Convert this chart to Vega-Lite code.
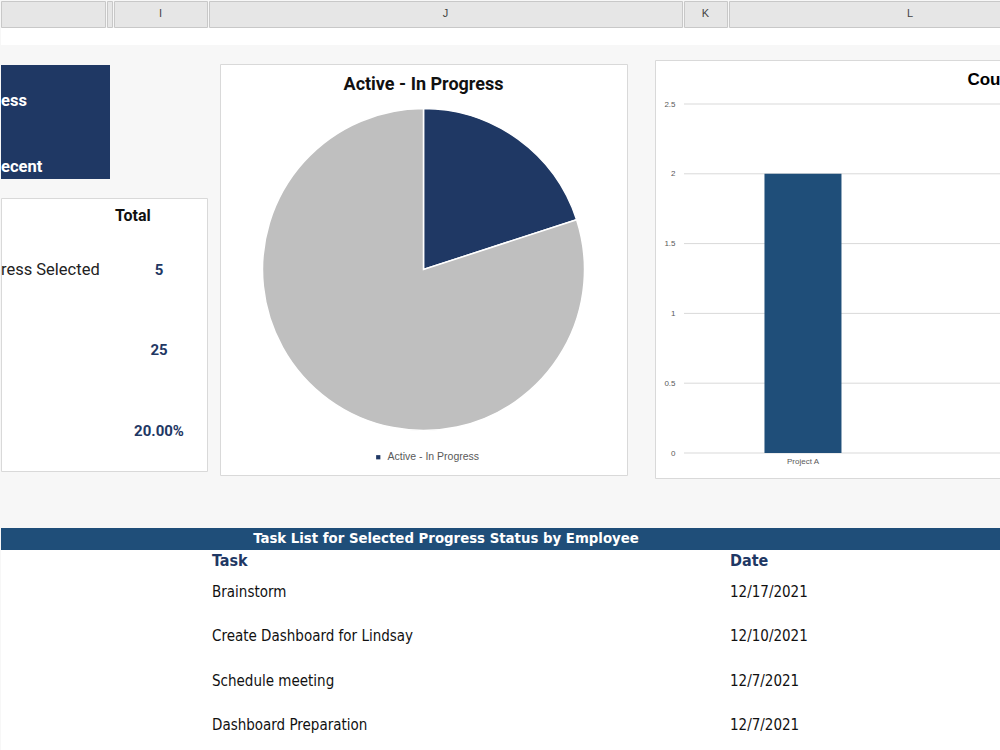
{
  "$schema": "https://vega.github.io/schema/vega-lite/v6.json",
  "background": "#f7f7f7",
  "padding": 0,
  "spacing": 0,
  "config": {
    "view": {"stroke": null},
    "concat": {"spacing": 0}
  },
  "datasets": {
    "columns": [{"col": "I"}, {"col": "J"}, {"col": "K"}, {"col": "L"}],
    "headline": [{"line": 1, "text": "ess"}, {"line": 2, "text": "ecent"}],
    "summary": [
      {"row": 1, "label": "ress Selected", "total": "5"},
      {"row": 4, "label": "", "total": "25"},
      {"row": 7, "label": "", "total": "20.00%"}
    ],
    "status": [
      {"status": "Active - In Progress", "count": 5},
      {"status": "Other", "count": 20}
    ],
    "projects": [{"project": "Project A", "count": 2}],
    "gridvals": [{"v": 0}, {"v": 0.5}, {"v": 1}, {"v": 1.5}, {"v": 2}, {"v": 2.5}],
    "tasks": [
      {"n": 1, "task": "Brainstorm", "date": "12/17/2021"},
      {"n": 2, "task": "Create Dashboard for Lindsay", "date": "12/10/2021"},
      {"n": 3, "task": "Schedule meeting", "date": "12/7/2021"},
      {"n": 4, "task": "Dashboard Preparation", "date": "12/7/2021"}
    ]
  },
  "vconcat": [
    {
      "spacing": 0,
      "hconcat": [
        {"width": 104, "height": 26, "view": {"fill": "#e6e6e6", "stroke": "#c8c8c8"}, "data": {"values": []}, "mark": "text"},
        {"width": 5, "height": 26, "view": {"fill": "#e6e6e6", "stroke": "#c8c8c8"}, "data": {"values": []}, "mark": "text"},
        {"width": 93, "height": 26, "view": {"fill": "#e6e6e6", "stroke": "#c8c8c8"}, "data": {"name": "columns"}, "transform": [{"filter": "datum.col === 'I'"}],
         "mark": {"type": "text", "font": "Liberation Sans", "fontSize": 11, "color": "#444444", "baseline": "middle"}, "encoding": {"text": {"field": "col"}}},
        {"width": 473, "height": 26, "view": {"fill": "#e6e6e6", "stroke": "#c8c8c8"}, "data": {"name": "columns"}, "transform": [{"filter": "datum.col === 'J'"}],
         "mark": {"type": "text", "font": "Liberation Sans", "fontSize": 11, "color": "#444444", "baseline": "middle"}, "encoding": {"text": {"field": "col"}}},
        {"width": 43, "height": 26, "view": {"fill": "#e6e6e6", "stroke": "#c8c8c8"}, "data": {"name": "columns"}, "transform": [{"filter": "datum.col === 'K'"}],
         "mark": {"type": "text", "font": "Liberation Sans", "fontSize": 11, "color": "#444444", "baseline": "middle"}, "encoding": {"text": {"field": "col"}}},
        {"width": 276, "height": 26, "view": {"fill": "#e6e6e6", "stroke": "#c8c8c8"}, "data": {"name": "columns"}, "transform": [{"filter": "datum.col === 'L'"}],
         "mark": {"type": "text", "font": "Liberation Sans", "fontSize": 11, "color": "#444444", "baseline": "middle", "dx": 43}, "encoding": {"text": {"field": "col"}}}
      ]
    },
    {"width": 1000, "height": 17, "view": {"fill": "white"}, "data": {"values": []}, "mark": "text"},
    {
      "spacing": 0,
      "hconcat": [
        {
          "spacing": 0,
          "vconcat": [
            {"width": 1, "height": 20, "data": {"values": []}, "mark": "text"},
            {
              "width": 109, "height": 114,
              "view": {"fill": "#1f3864"},
              "data": {"name": "headline"},
              "mark": {"type": "text", "align": "left", "baseline": "middle", "font": "Roboto", "fontSize": 16.5, "fontWeight": "bold", "color": "white"},
              "encoding": {
                "x": {"datum": "A", "type": "nominal", "bandPosition": 0, "scale": {"type": "band", "domain": ["A"], "range": [0, 109], "paddingInner": 0, "paddingOuter": 0}, "axis": null},
                "y": {"field": "line", "type": "ordinal", "scale": {"type": "point", "domain": [1, 2], "range": [36, 102], "padding": 0}, "axis": null},
                "text": {"field": "text"}
              }
            },
            {"width": 1, "height": 18, "data": {"values": []}, "mark": "text"},
            {
              "width": 206, "height": 273,
              "view": {"fill": "white", "stroke": "#d9d9d9"},
              "layer": [
                {
                  "data": {"values": [{"row": -1, "text": "Total"}]},
                  "mark": {"type": "text", "align": "left", "baseline": "middle", "font": "Roboto", "fontSize": 16, "fontWeight": "bold", "color": "#111111"},
                  "encoding": {
                    "x": {"datum": "B", "type": "nominal", "bandPosition": 0},
                    "y": {"field": "row", "type": "quantitative"},
                    "text": {"field": "text"}
                  }
                },
                {
                  "data": {"name": "summary"},
                  "mark": {"type": "text", "align": "left", "baseline": "middle", "font": "Roboto", "fontSize": 16.5, "color": "#222222"},
                  "encoding": {
                    "x": {"datum": "A", "type": "nominal", "bandPosition": 0},
                    "y": {"field": "row", "type": "quantitative"},
                    "text": {"field": "label"}
                  }
                },
                {
                  "data": {"name": "summary"},
                  "mark": {"type": "text", "align": "center", "baseline": "middle", "font": "Roboto", "fontSize": 15, "fontWeight": "bold", "color": "#1f3864"},
                  "encoding": {
                    "x": {"datum": "B", "type": "nominal", "bandPosition": 0.386},
                    "y": {"field": "row", "type": "quantitative"},
                    "text": {"field": "total"}
                  }
                }
              ],
              "encoding": {
                "x": {"datum": "A", "type": "nominal", "scale": {"type": "band", "domain": ["A", "B"], "range": [0, 228], "paddingInner": 0, "paddingOuter": 0}, "axis": null},
                "y": {"field": "row", "type": "quantitative", "scale": {"domain": [-1, 7], "range": [17.6, 233.2], "nice": false, "zero": false}, "axis": null}
              }
            }
          ]
        },
        {"width": 11, "height": 1, "data": {"values": []}, "mark": "text"},
        {
          "spacing": 0,
          "vconcat": [
            {"width": 1, "height": 18, "data": {"values": []}, "mark": "text"},
            {
              "width": 407, "height": 411,
              "view": {"fill": "white", "stroke": "#d9d9d9"},
              "title": {"text": "Active - In Progress", "anchor": "middle", "offset": -44, "baseline": "alphabetic", "font": "Roboto", "fontSize": 18, "fontWeight": "bold", "color": "#111111"},
              "data": {"name": "status"},
              "mark": {"type": "arc", "outerRadius": 161, "stroke": "white", "strokeWidth": 1.5},
              "encoding": {
                "theta": {"field": "count", "type": "quantitative", "stack": true},
                "order": {"field": "count", "sort": "ascending"},
                "color": {
                  "field": "status", "type": "nominal",
                  "scale": {"domain": ["Active - In Progress", "Other"], "range": ["#1f3864", "#bfbfbf"]},
                  "legend": {"values": ["Active - In Progress"], "orient": "none", "legendX": 372, "legendY": 451, "title": null, "padding": 0, "symbolType": "square", "symbolSize": 18, "symbolStrokeWidth": 0, "labelOffset": 4, "labelFont": "Liberation Sans", "labelFontSize": 10.5, "labelColor": "#595959"}
                }
              }
            }
          ]
        },
        {"width": 26, "height": 1, "data": {"values": []}, "mark": "text"},
        {
          "spacing": 0,
          "vconcat": [
            {"width": 1, "height": 14, "data": {"values": []}, "mark": "text"},
            {
              "width": 345, "height": 418,
              "view": {"fill": "white", "stroke": "#d9d9d9"},
              "title": {"text": "Cou", "anchor": "end", "offset": -42, "baseline": "alphabetic", "font": "Liberation Sans", "fontSize": 17, "fontWeight": "bold", "color": "#000000"},
              "layer": [
                {
                  "data": {"name": "gridvals"},
                  "mark": {"type": "rule", "color": "#d9d9d9", "strokeWidth": 1},
                  "encoding": {
                    "x": {"datum": "Project A", "type": "nominal", "bandPosition": 0},
                    "x2": {"value": "width"},
                    "y": {"field": "v", "type": "quantitative"}
                  }
                },
                {
                  "data": {"name": "projects"},
                  "mark": {"type": "bar", "width": 77, "color": "#1f4e79"},
                  "encoding": {
                    "x": {
                      "field": "project", "type": "nominal",
                      "axis": {"title": null, "domain": false, "ticks": false, "grid": false, "labelAngle": 0, "labelAlign": "center", "bandPosition": 0.5, "labelFont": "Liberation Sans", "labelFontSize": 8, "labelColor": "#595959", "offset": -25, "labelPadding": 8}
                    },
                    "y": {
                      "field": "count", "type": "quantitative",
                      "axis": {"title": null, "values": [0, 0.5, 1, 1.5, 2, 2.5], "format": "~g", "domain": false, "ticks": false, "grid": false, "labelFont": "Liberation Sans", "labelFontSize": 8, "labelColor": "#595959", "offset": -22, "labelPadding": 2}
                    }
                  }
                }
              ],
              "encoding": {
                "x": {"field": "project", "type": "nominal", "scale": {"type": "band", "domain": ["Project A"], "range": [29, 345], "paddingInner": 0, "paddingOuter": 0.164, "align": 0}},
                "y": {"field": "count", "type": "quantitative", "scale": {"domain": [0, 2.5], "range": [393, 44], "nice": false, "zero": true}}
              }
            },
            {"width": 1, "height": 49, "data": {"values": []}, "mark": "text"}
          ]
        }
      ]
    },
    {
      "spacing": 0,
      "hconcat": [
        {
          "width": 890, "height": 22,
          "view": {"fill": "#1f4e79"},
          "data": {"values": [{"title": "Task List for Selected Progress Status by Employee"}]},
          "mark": {"type": "text", "baseline": "middle", "font": "DejaVu Sans Condensed", "fontSize": 14.8, "fontWeight": "bold", "color": "white"},
          "encoding": {"text": {"field": "title"}}
        },
        {"width": 110, "height": 22, "view": {"fill": "#1f4e79"}, "data": {"values": []}, "mark": "text"}
      ]
    },
    {
      "width": 1000, "height": 22,
      "view": {"fill": "white"},
      "data": {"values": [{"column": "Task"}, {"column": "Date"}]},
      "mark": {"type": "text", "align": "left", "baseline": "middle", "font": "DejaVu Sans Condensed", "fontSize": 16, "fontWeight": "bold", "color": "#1f3864"},
      "encoding": {
        "x": {"field": "column", "type": "nominal", "scale": {"type": "point", "domain": ["Task", "Date"], "range": [211, 729], "padding": 0}, "axis": null},
        "text": {"field": "column"}
      }
    },
    {
      "width": 1000, "height": 178,
      "view": {"fill": "white"},
      "data": {"name": "tasks"},
      "encoding": {
        "y": {"field": "n", "type": "ordinal", "scale": {"type": "point", "domain": [1, 2, 3, 4], "range": [20, 153], "padding": 0}, "axis": null}
      },
      "layer": [
        {
          "mark": {"type": "text", "align": "left", "baseline": "middle", "font": "DejaVu Sans Condensed", "fontSize": 15, "color": "#111111"},
          "encoding": {
            "x": {"datum": "Task", "type": "nominal", "scale": {"type": "point", "domain": ["Task", "Date"], "range": [211, 729], "padding": 0}, "axis": null},
            "text": {"field": "task"}
          }
        },
        {
          "mark": {"type": "text", "align": "left", "baseline": "middle", "font": "DejaVu Sans Condensed", "fontSize": 15, "color": "#111111"},
          "encoding": {
            "x": {"datum": "Date", "type": "nominal"},
            "text": {"field": "date"}
          }
        }
      ]
    }
  ]
}
